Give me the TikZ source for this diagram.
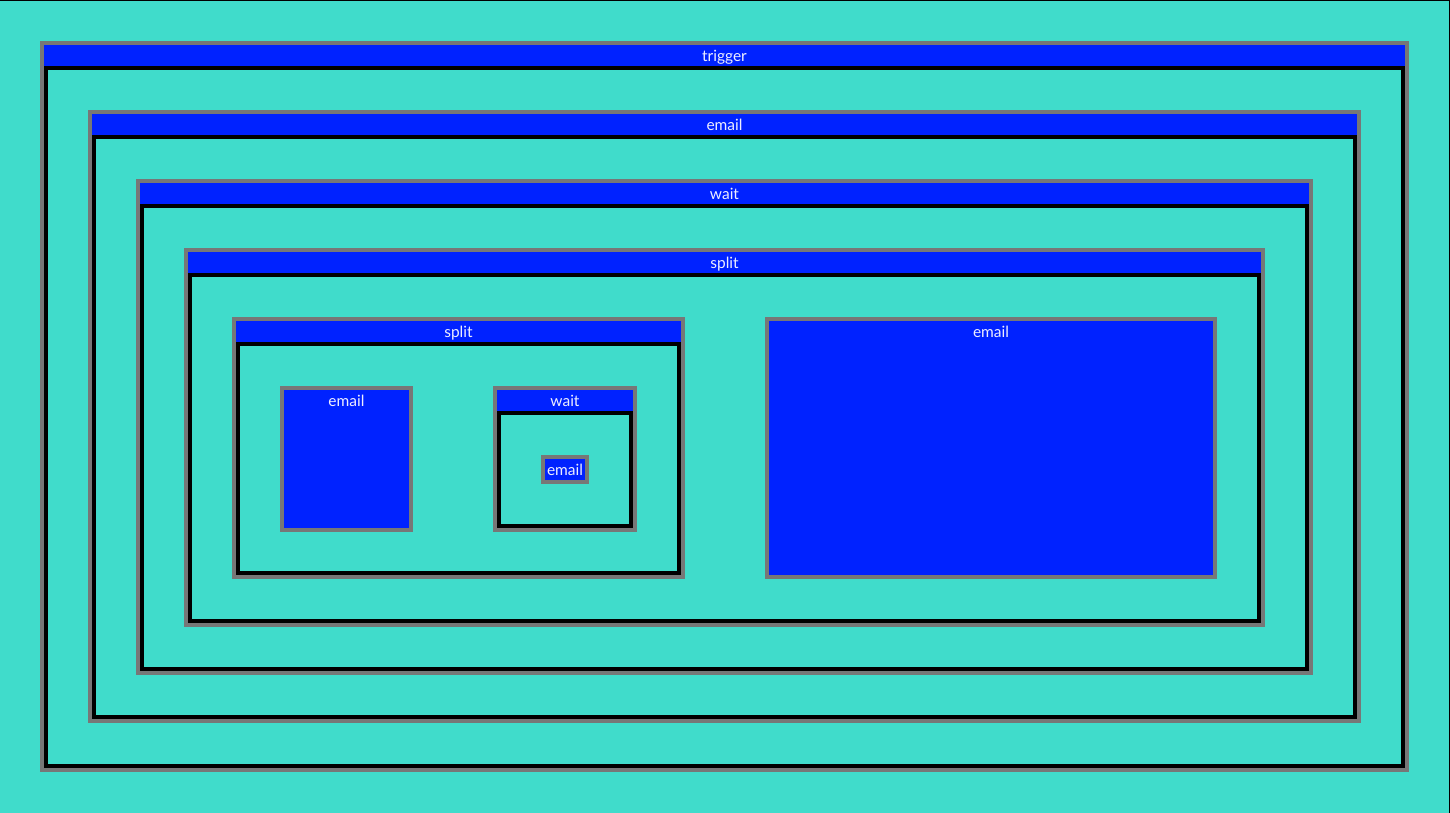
\documentclass[tikz,border=0pt]{standalone}
\usepackage{fontspec}
\setmainfont{Lato}
\definecolor{teal}{HTML}{40DCCB}
\definecolor{hdrblue}{HTML}{0022FF}
\definecolor{edge}{HTML}{777777}
\definecolor{txt}{HTML}{EEEEFF}
\tikzset{
  lbl/.style={text=txt, font=\fontsize{15.5}{17}\selectfont, inner sep=0pt, anchor=base},
}
% container: name, x1, y1, x2, y2, label
\newcommand\mkcontainer[6]{%
  \fill[edge] (#2,#3) rectangle (#4,#5);
  \fill[hdrblue] (#2+4,#3+4) rectangle (#4-4,#3+25);
  \fill[black] (#2+4,#3+25) rectangle (#4-4,#5-4);
  \fill[teal] (#2+8,#3+29) rectangle (#4-8,#5-8);
  \coordinate (#1) at ({(#2+#4)/2},#3);
  \node[lbl] (#1-label) at ([yshift=-20.5]#1) {#6};
}
% leaf: name, x1, y1, x2, y2, label
\newcommand\mkleaf[6]{%
  \fill[edge] (#2,#3) rectangle (#4,#5);
  \fill[hdrblue] (#2+4,#3+4) rectangle (#4-4,#5-4);
  \coordinate (#1) at ({(#2+#4)/2},#3);
  \node[lbl] (#1-label) at ([yshift=-20.5]#1) {#6};
}
\begin{document}
\begin{tikzpicture}[x=1pt,y=-1pt]
\useasboundingbox (0,0) rectangle (1450,812);
\fill[teal] (-5,-5) rectangle (1455,817);
\draw[black, line width=1.2pt] (0,0.5) -- (1449.5,0.5) -- (1449.5,817);
\mkcontainer{trigger}{40}{41}{1409}{772}{trigger}
\mkcontainer{email1}{88}{110}{1361}{723}{email}
\mkcontainer{wait1}{136}{179}{1313}{675}{wait}
\mkcontainer{split1}{184}{248}{1265}{627}{split}
\mkcontainer{split2}{232}{317}{685}{579}{split}
\mkleaf{email2}{765}{317}{1217}{579}{email}
\mkleaf{email3}{280}{386}{413}{532}{email}
\mkcontainer{wait2}{493}{386}{637}{532}{wait}
\fill[edge] (541,455) rectangle (589,484);
\fill[hdrblue] (545,459) rectangle (585,480);
\node[lbl, anchor=base] (email4) at (565,475.5) {email};
\end{tikzpicture}
\end{document}
